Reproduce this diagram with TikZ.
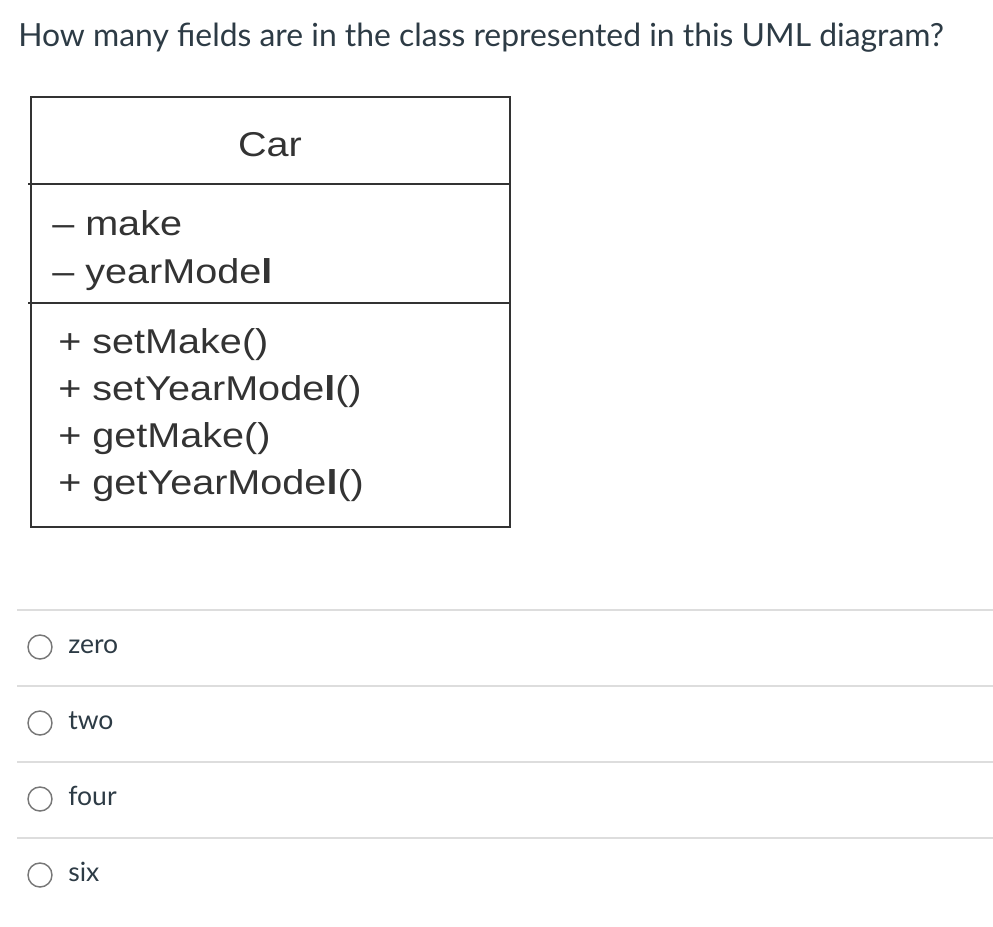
\documentclass[tikz,border=0pt]{standalone}
\usepackage{fontspec}
\setmainfont{Lato}
\newfontfamily\umlfont{Liberation Sans}
\usetikzlibrary{positioning}
\definecolor{canvastext}{HTML}{2D3B45}
\definecolor{ruleline}{HTML}{DDDDDD}
\definecolor{radioring}{HTML}{777777}
\definecolor{umlink}{HTML}{333333}
\newcommand{\squash}[1]{\scalebox{1}[0.87]{#1}}
\tikzset{
  question/.style={anchor=base west, inner sep=0pt, text=canvastext, font=\fontsize{23.9}{29}\selectfont},
  member/.style={anchor=base west, inner sep=0pt, text=umlink, font=\umlfont\fontsize{29.7}{36}\selectfont},
  answer/.style={anchor=base west, inner sep=0pt, text=canvastext, font=\fontsize{19.9}{24}\selectfont},
  radio/.style={draw=radioring, line width=1.1pt, circle, minimum size=18pt, inner sep=0pt},
}

\begin{document}
\begin{tikzpicture}[x=0.75pt, y=-0.75pt]
  \useasboundingbox (0,0) rectangle (993,926);

  % question
  \node[question] (question) at (18,46) {How many fields are in the class represented in this UML diagram?};

  % class box
  \draw[umlink, line width=1.9pt] (31,97) rectangle (510,527);
  \draw[umlink, line width=1.9pt] (28,184) -- (510,184);
  \draw[umlink, line width=1.9pt] (28,303) -- (510,303);

  % name, fields, methods
  \node[member, anchor=base] (classname) at (270,156) {\squash{Car}};
  \node[member] (make) at (52,235) {\squash{– make}};
  \node[member] (yearmodel) at (52,283) {\squash{– yearMode\textbf{l}}};
  \node[member] (setmake) at (58,353) {\squash{+ setMake()}};
  \node[member] (setyearmodel) at (58,400) {\squash{+ setYearMode\textbf{l}()}};
  \node[member] (getmake) at (58,447) {\squash{+ getMake()}};
  \node[member] (getyearmodel) at (58,494) {\squash{+ getYearMode\textbf{l}()}};

  % answer options
  \foreach \word [count=\i] in {zero,two,four,six} {
    \draw[ruleline, line width=1.5pt] (17,534+76*\i) -- (993,534+76*\i);
    \node[radio] (radio\i) at (40,571+76*\i) {};
    \node[answer] (answer\i) at (68,577+76*\i) {\word};
  }
\end{tikzpicture}
\end{document}
